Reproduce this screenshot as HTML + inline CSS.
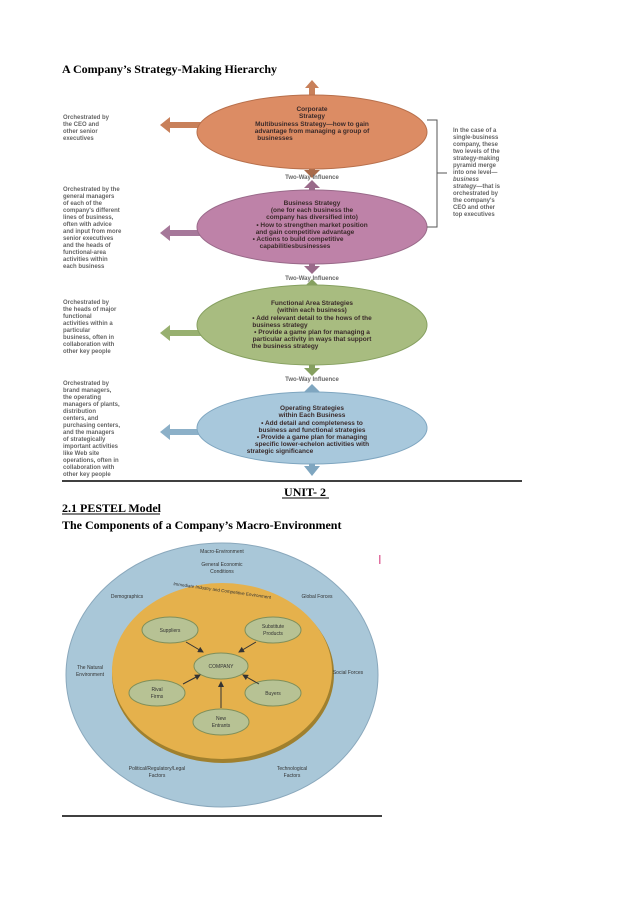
<!DOCTYPE html>
<html><head><meta charset="utf-8"><style>
body{margin:0;background:#fff;}
svg{display:block}
.t{font-family:"Liberation Serif",serif;font-weight:bold;fill:#000}
.s{font-family:"Liberation Sans",sans-serif;font-size:6px;fill:#666;font-weight:bold}
.e{font-family:"Liberation Sans",sans-serif;font-size:6.5px;fill:#3a2a2a;font-weight:bold}
.p{font-family:"Liberation Sans",sans-serif;font-size:5px;fill:#333}
</style></head><body>
<svg width="638" height="903" viewBox="0 0 638 903" xmlns="http://www.w3.org/2000/svg">
<defs>
<marker id="ah" markerWidth="6" markerHeight="6" refX="5" refY="3" orient="auto"><path d="M0,0 L6,3 L0,6z" fill="#333"/></marker>
</defs>
<text class="t" x="62" y="73" font-size="12">A Company’s  Strategy-Making Hierarchy</text>

<polygon points="312,80 319,88 315,88 315,96 309,96 309,88 305,88" fill="#c8805a"/>
<rect x="309" y="165" width="6" height="10" fill="#a86a4a"/><polygon points="304,170 320,170 312,178" fill="#a86a4a"/>
<polygon points="312,180 320,188 304,188" fill="#9a6a8a"/><rect x="309" y="186" width="6" height="8" fill="#9a6a8a"/>
<rect x="309" y="260" width="6" height="10" fill="#9a6a8a"/><polygon points="304,266 320,266 312,274" fill="#9a6a8a"/>
<polygon points="312,279 320,287 304,287" fill="#86a060"/><rect x="309" y="285" width="6" height="6" fill="#86a060"/>
<rect x="309" y="362" width="6" height="10" fill="#86a060"/><polygon points="304,368 320,368 312,376" fill="#86a060"/>
<polygon points="312,384 320,392 304,392" fill="#7fa6c0"/><rect x="309" y="390" width="6" height="8" fill="#7fa6c0"/>
<rect x="309" y="460" width="6" height="8" fill="#7fa6c0"/><polygon points="304,466 320,466 312,476" fill="#7fa6c0"/>

<g><rect x="168" y="122" width="34" height="6" fill="#c8805a"/><polygon points="160,125 170,117 170,133" fill="#c8805a"/></g>
<g><rect x="168" y="230" width="34" height="6" fill="#a6789a"/><polygon points="160,233 170,225 170,241" fill="#a6789a"/></g>
<g><rect x="168" y="330" width="34" height="6" fill="#98b070"/><polygon points="160,333 170,325 170,341" fill="#98b070"/></g>
<g><rect x="168" y="429" width="34" height="6" fill="#8cb0c8"/><polygon points="160,432 170,424 170,440" fill="#8cb0c8"/></g>

<ellipse cx="312" cy="132" rx="115" ry="37" fill="#dc8c64" stroke="#b8704c"/>
<ellipse cx="312" cy="227" rx="115" ry="37" fill="#be82a8" stroke="#9a6a8a"/>
<ellipse cx="312" cy="325" rx="115" ry="40" fill="#a8bc80" stroke="#86a060"/>
<ellipse cx="312" cy="428" rx="115" ry="36" fill="#a8c8dc" stroke="#7fa6c0"/>

<g class="e" text-anchor="middle">
<text x="312" y="111">Corporate</text><text x="312" y="118">Strategy</text>
<text x="312" y="126">Multibusiness Strategy—how to gain</text>
<text x="312" y="133">advantage from managing a group of</text>
<text x="275" y="140">businesses</text>
<text x="312" y="205">Business Strategy</text>
<text x="312" y="212">(one for each business the</text>
<text x="312" y="219">company has diversified into)</text>
<text x="312" y="227">• How to strengthen market position</text>
<text x="305" y="234">and gain competitive advantage</text>
<text x="298" y="241">• Actions to build competitive</text>
<text x="295" y="248">capabilitiesbusinesses</text>
<text x="312" y="305">Functional Area Strategies</text>
<text x="312" y="312">(within each business)</text>
<text x="312" y="320">• Add relevant detail to the hows of the</text>
<text x="280" y="327">business strategy</text>
<text x="312" y="334">• Provide a game plan for managing a</text>
<text x="312" y="341">particular activity in ways that support</text>
<text x="285" y="348">the business strategy</text>
<text x="312" y="410">Operating Strategies</text>
<text x="312" y="417">within Each Business</text>
<text x="312" y="425">• Add detail and completeness to</text>
<text x="312" y="432">business and functional strategies</text>
<text x="312" y="439">• Provide a game plan for managing</text>
<text x="312" y="446">specific lower-echelon activities with</text>
<text x="280" y="453">strategic significance</text>
</g>
<g class="s" text-anchor="middle">
<text x="312" y="179">Two-Way Influence</text>
<text x="312" y="280">Two-Way Influence</text>
<text x="312" y="381">Two-Way Influence</text>
</g>
<g class="s">
<text x="63" y="119">Orchestrated by</text><text x="63" y="126">the CEO and</text><text x="63" y="133">other senior</text><text x="63" y="140">executives</text>
<text x="63" y="191">Orchestrated by the</text><text x="63" y="198">general managers</text><text x="63" y="205">of each of the</text><text x="63" y="212">company's different</text><text x="63" y="219">lines of business,</text><text x="63" y="226">often with advice</text><text x="63" y="233">and input from more</text><text x="63" y="240">senior executives</text><text x="63" y="247">and the heads of</text><text x="63" y="254">functional-area</text><text x="63" y="261">activities within</text><text x="63" y="268">each business</text>
<text x="63" y="304">Orchestrated by</text><text x="63" y="311">the heads of major</text><text x="63" y="318">functional</text><text x="63" y="325">activities within a</text><text x="63" y="332">particular</text><text x="63" y="339">business, often in</text><text x="63" y="346">collaboration with</text><text x="63" y="353">other key people</text>
<text x="63" y="385">Orchestrated by</text><text x="63" y="392">brand managers,</text><text x="63" y="399">the operating</text><text x="63" y="406">managers of plants,</text><text x="63" y="413">distribution</text><text x="63" y="420">centers, and</text><text x="63" y="427">purchasing centers,</text><text x="63" y="434">and the managers</text><text x="63" y="441">of strategically</text><text x="63" y="448">important activities</text><text x="63" y="455">like Web site</text><text x="63" y="462">operations, often in</text><text x="63" y="469">collaboration with</text><text x="63" y="476">other key people</text>
<text x="453" y="132">In the case of a</text><text x="453" y="139">single-business</text><text x="453" y="146">company, these</text><text x="453" y="153">two levels of the</text><text x="453" y="160">strategy-making</text><text x="453" y="167">pyramid merge</text><text x="453" y="174">into one level—</text><text x="453" y="181" font-style="italic">business</text><text x="453" y="188"><tspan font-style="italic">strategy</tspan>—that is</text><text x="453" y="195">orchestrated by</text><text x="453" y="202">the company's</text><text x="453" y="209">CEO and other</text><text x="453" y="216">top executives</text>
</g>
<path d="M427,120 H437 V227 H427 M437,173 H447" fill="none" stroke="#555" stroke-width="1"/>

<line x1="62" y1="481" x2="522" y2="481" stroke="#000" stroke-width="1.5"/>
<text class="t" x="305" y="496" font-size="12" text-anchor="middle">UNIT- 2</text>
<line x1="282" y1="498" x2="329" y2="498" stroke="#000"/>
<text class="t" x="62" y="512" font-size="12">2.1 PESTEL Model</text>
<line x1="62" y1="514" x2="160" y2="514" stroke="#000"/>
<text class="t" x="62" y="529" font-size="12">The Components of a Company’s Macro-Environment</text>

<ellipse cx="222" cy="675" rx="156" ry="132" fill="#a9c7d8" stroke="#8aa8bc"/>
<ellipse cx="223" cy="674" rx="111" ry="89" fill="#a0802e"/>
<ellipse cx="222" cy="671" rx="110" ry="88" fill="#e5b14c"/>
<g fill="#b7c294" stroke="#7f8f5a">
<ellipse cx="221" cy="666" rx="27" ry="13"/>
<ellipse cx="170" cy="630" rx="28" ry="13"/>
<ellipse cx="273" cy="630" rx="28" ry="13"/>
<ellipse cx="157" cy="693" rx="28" ry="13"/>
<ellipse cx="273" cy="693" rx="28" ry="13"/>
<ellipse cx="221" cy="722" rx="28" ry="13"/>
</g>
<g stroke="#333" stroke-width="1" marker-end="url(#ah)">
<line x1="186" y1="642" x2="203" y2="652"/>
<line x1="256" y1="642" x2="239" y2="652"/>
<line x1="183" y1="684" x2="200" y2="675"/>
<line x1="259" y1="684" x2="243" y2="675"/>
<line x1="221" y1="708" x2="221" y2="682"/>
</g>
<g class="p" text-anchor="middle">
<text x="221" y="668">COMPANY</text>
<text x="170" y="632">Suppliers</text>
<text x="273" y="628">Substitute</text><text x="273" y="635">Products</text>
<text x="157" y="691">Rival</text><text x="157" y="698">Firms</text>
<text x="273" y="695">Buyers</text>
<text x="221" y="720">New</text><text x="221" y="727">Entrants</text>
<text x="222" y="553">Macro-Environment</text>
<text x="222" y="566">General Economic</text><text x="222" y="573">Conditions</text>
<text x="127" y="598">Demographics</text>
<text x="317" y="598">Global Forces</text>
<text x="90" y="669">The Natural</text><text x="90" y="676">Environment</text>
<text x="348" y="674">Social Forces</text>
<text x="157" y="770">Political/Regulatory/Legal</text><text x="157" y="777">Factors</text>
<text x="292" y="770">Technological</text><text x="292" y="777">Factors</text>
<text x="222" y="592" transform="rotate(8 222 592)" font-size="4.5">Immediate Industry and Competitive Environment</text>
</g>
<rect x="379" y="555" width="1.5" height="9" fill="#e070a0"/>
<line x1="62" y1="816" x2="382" y2="816" stroke="#000" stroke-width="1.5"/>
</svg>
</body></html>
